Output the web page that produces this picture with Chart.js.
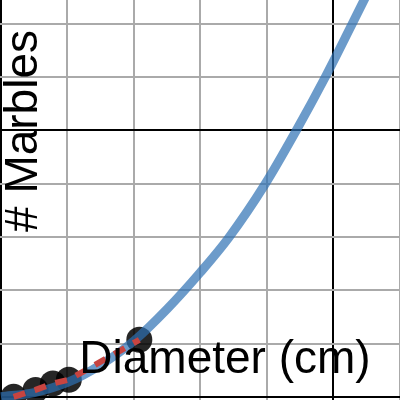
<!DOCTYPE html>
<html><head><script src="https://cdn.jsdelivr.net/npm/chart.js@4"></script>
<style>html,body{margin:0;padding:0;background:#fff}#c{width:400px;height:400px}</style></head>
<body><div id="c"><canvas id="chart"></canvas></div>
<script>
// fitted curve
const curveX = [0, 0.5, 1, 1.5, 2, 2.5, 3, 3.42, 3.975, 4.44, 4.875, 5.28, 5.6];
const curveY = [0, 0.08, 0.27, 0.6, 1.05, 1.65, 2.34, 2.98, 4.0, 5.0, 6.0, 7.0, 7.8];
// measured marbles
const pointX = [0.19, 0.52, 0.78, 1.02, 2.08];
const pointY = [0.0, 0.13, 0.25, 0.32, 1.07];
const xTitle = 'Diameter (cm)';
const yTitle = '# Marbles';

const toXY = (xs, ys) => xs.map((x, i) => ({ x, y: ys[i] }));
const gridColor = ctx => (ctx.tick.value === 0 || ctx.tick.value === 5) ? '#000' : '#aaa';

const labelsPlugin = {
    id: 'labels',
    afterDatasetsDraw(chart) {
        const c = chart.ctx;
        c.save();
        c.fillStyle = '#000';
        c.font = '46px "Liberation Sans", Arial, sans-serif';
        c.textAlign = 'center';
        c.textBaseline = 'middle';
        c.fillText(xTitle, 225, 360);
        c.translate(24, 131);
        c.rotate(-Math.PI / 2);
        c.fillText(yTitle, 0, 0);
        c.restore();
    }
};

new Chart(document.getElementById('chart'), {
    type: 'scatter',
    data: {
        datasets: [
            {
                data: toXY(pointX, pointY),
                showLine: true,
                borderColor: '#c74440',
                borderWidth: 6,
                borderDash: [12, 10],
                pointRadius: 0,
                order: 1
            },
            {
                data: toXY(curveX, curveY),
                showLine: true,
                borderColor: 'rgba(45,112,179,0.7)',
                borderWidth: 9,
                cubicInterpolationMode: 'monotone',
                pointRadius: 0,
                order: 2
            },
            {
                data: toXY(pointX, pointY),
                backgroundColor: 'rgba(0,0,0,0.85)',
                borderWidth: 0,
                pointRadius: 13,
                order: 3
            }
        ]
    },
    options: {
        responsive: true,
        maintainAspectRatio: false,
        animation: false,
        layout: { padding: 0, autoPadding: false },
        plugins: { legend: { display: false }, tooltip: { enabled: false } },
        scales: {
            x: {
                type: 'linear', min: -0.015, max: 6, afterBuildTicks: s => { s.ticks = [0,1,2,3,4,5,6].map(v => ({ value: v })); },
                ticks: { display: false, padding: 0 }, border: { display: false },
                grid: { color: gridColor, lineWidth: 2, drawTicks: false }
            },
            y: {
                type: 'linear', min: -0.06, max: 7.45, afterBuildTicks: s => { s.ticks = [0,1,2,3,4,5,6,7].map(v => ({ value: v })); },
                ticks: { display: false, padding: 0 }, border: { display: false },
                grid: { color: gridColor, lineWidth: 2, drawTicks: false }
            }
        }
    },
    plugins: [labelsPlugin]
});
</script></body></html>
